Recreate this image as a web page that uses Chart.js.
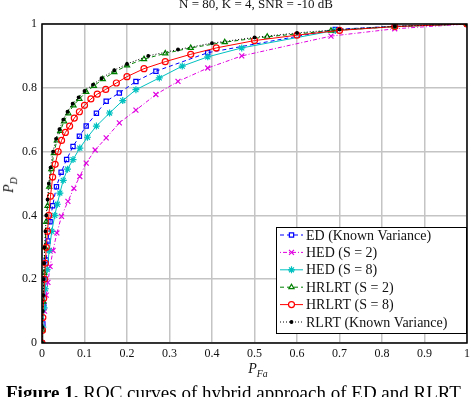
<!DOCTYPE html>
<html>
<head>
<meta charset="utf-8">
<script src="https://cdn.jsdelivr.net/npm/chart.js@4.4.1/dist/chart.umd.min.js"></script>
<style>
html, body { margin: 0; padding: 0; background: #fff; overflow: hidden; }
#wrap { position: relative; width: 474px; height: 397px; overflow: hidden; }
#chart { position: absolute; left: 0; top: 0; }
.txt { position: absolute; font-family: "Liberation Serif", "DejaVu Serif", serif; color: #111; white-space: nowrap; }
#title { left: 0; width: 512px; top: -4px; text-align: center; font-size: 13px; }
#ylab { left: 10px; top: 185px; font-size: 14px; font-style: italic; transform: translate(-50%, -50%) rotate(-90deg); }
#xlab { left: 258px; top: 370px; font-size: 14px; font-style: italic; transform: translate(-50%, -50%); }
#caption { left: 6px; top: 382px; font-size: 19px; color: #000; }
sub { font-size: 70%; }
</style>
</head>
<body>
<div id="wrap">
  <canvas id="chart" width="474" height="397"></canvas>
  <div class="txt" id="title">N = 80, K = 4, SNR = -10 dB</div>
  <div class="txt" id="ylab">P<sub>D</sub></div>
  <div class="txt" id="xlab">P<sub>Fa</sub></div>
  <div class="txt" id="caption"><b>Figure 1.</b> ROC curves of hybrid approach of ED and RLRT</div>
</div>
<script>
// Valores (Pfa, Pd)
const seriesNames = ['ED (Known Variance)', 'HED (S = 2)', 'HED (S = 8)', 'HRLRT (S = 2)', 'HRLRT (S = 8)', 'RLRT (Known Variance)'];

const edPfa = [0, 0.002, 0.004, 0.007, 0.01, 0.014, 0.019, 0.025, 0.034, 0.045, 0.058, 0.073, 0.088, 0.104, 0.128, 0.151, 0.182, 0.221, 0.268, 0.39, 0.69, 0.83, 1];
const edPd  = [0, 0.06, 0.12, 0.2, 0.26, 0.32, 0.38, 0.43, 0.49, 0.535, 0.575, 0.616, 0.648, 0.68, 0.72, 0.758, 0.784, 0.82, 0.852, 0.91, 0.983, 0.993, 1];

const hed2Pfa = [0, 0.003, 0.006, 0.01, 0.014, 0.019, 0.026, 0.035, 0.046, 0.061, 0.075, 0.089, 0.104, 0.125, 0.151, 0.182, 0.221, 0.268, 0.32, 0.39, 0.47, 0.68, 0.83, 1];
const hed2Pd  = [0, 0.05, 0.1, 0.15, 0.19, 0.24, 0.29, 0.345, 0.397, 0.444, 0.485, 0.522, 0.564, 0.605, 0.643, 0.69, 0.73, 0.779, 0.82, 0.862, 0.9, 0.962, 0.985, 1];

const hed8Pfa = [0, 0.002, 0.005, 0.008, 0.012, 0.017, 0.023, 0.03, 0.036, 0.042, 0.05, 0.06, 0.073, 0.089, 0.107, 0.128, 0.159, 0.19, 0.221, 0.276, 0.33, 0.39, 0.47, 0.69, 0.83, 1];
const hed8Pd  = [0, 0.05, 0.11, 0.17, 0.23, 0.29, 0.35, 0.4, 0.435, 0.47, 0.51, 0.545, 0.575, 0.611, 0.645, 0.68, 0.721, 0.76, 0.794, 0.831, 0.868, 0.897, 0.925, 0.98, 0.992, 1];

const hrlrt2Pfa = [0, 0.001, 0.003, 0.005, 0.007, 0.01, 0.013, 0.017, 0.022, 0.028, 0.035, 0.043, 0.052, 0.062, 0.074, 0.088, 0.104, 0.122, 0.143, 0.17, 0.2, 0.24, 0.29, 0.35, 0.43, 0.53, 0.68, 0.83, 1];
const hrlrt2Pd  = [0, 0.04, 0.13, 0.22, 0.3, 0.38, 0.43, 0.49, 0.545, 0.595, 0.635, 0.665, 0.695, 0.72, 0.745, 0.765, 0.787, 0.806, 0.827, 0.849, 0.87, 0.89, 0.908, 0.925, 0.943, 0.96, 0.979, 0.992, 1];

const hrlrt8Pfa = [0, 0.001, 0.002, 0.004, 0.006, 0.008, 0.01, 0.013, 0.016, 0.02, 0.025, 0.031, 0.038, 0.046, 0.055, 0.065, 0.076, 0.088, 0.1, 0.115, 0.13, 0.15, 0.175, 0.2, 0.24, 0.29, 0.35, 0.41, 0.5, 0.6, 0.7, 0.83, 1];
const hrlrt8Pd  = [0, 0.04, 0.08, 0.14, 0.2, 0.25, 0.3, 0.35, 0.4, 0.46, 0.52, 0.56, 0.6, 0.635, 0.66, 0.68, 0.705, 0.725, 0.745, 0.765, 0.78, 0.795, 0.815, 0.835, 0.86, 0.882, 0.905, 0.925, 0.948, 0.965, 0.98, 0.992, 1];

const rlrtPfa = [0, 0.001, 0.002, 0.003, 0.004, 0.005, 0.006, 0.008, 0.01, 0.013, 0.016, 0.02, 0.026, 0.033, 0.041, 0.05, 0.06, 0.072, 0.086, 0.1, 0.12, 0.14, 0.17, 0.2, 0.25, 0.32, 0.4, 0.5, 0.6, 0.7, 0.83, 1];
const rlrtPd  = [0, 0.05, 0.1, 0.15, 0.2, 0.25, 0.3, 0.35, 0.4, 0.45, 0.5, 0.55, 0.6, 0.64, 0.67, 0.7, 0.725, 0.75, 0.77, 0.79, 0.81, 0.83, 0.855, 0.875, 0.9, 0.92, 0.94, 0.958, 0.972, 0.983, 0.993, 1];

const xTicks = [0, 0.1, 0.2, 0.3, 0.4, 0.5, 0.6, 0.7, 0.8, 0.9, 1];
const yTicks = [0, 0.2, 0.4, 0.6, 0.8, 1];

const toPoints = (xs, ys) => xs.map((x, i) => ({ x: x, y: ys[i] }));
const tickText = v => String(+v.toFixed(1));

const serif = '"Liberation Serif", "DejaVu Serif", serif';

const datasets = [
    { label: seriesNames[0], data: toPoints(edPfa, edPd), borderColor: '#0000ff', borderDash: [4, 3],
      pointStyle: 'rect', pointRadius: 3, order: 6 },
    { label: seriesNames[1], data: toPoints(hed2Pfa, hed2Pd), borderColor: '#e000e0', borderDash: [1, 2, 4, 2],
      pointStyle: 'crossRot', pointRadius: 3.5, order: 5 },
    { label: seriesNames[2], data: toPoints(hed8Pfa, hed8Pd), borderColor: '#00c0c0', borderDash: [],
      pointStyle: 'star', pointRadius: 3.5, order: 4 },
    { label: seriesNames[3], data: toPoints(hrlrt2Pfa, hrlrt2Pd), borderColor: '#008000', borderDash: [4, 3],
      pointStyle: 'triangle', pointRadius: 3, order: 3 },
    { label: seriesNames[4], data: toPoints(hrlrt8Pfa, hrlrt8Pd), borderColor: '#ff0000', borderDash: [],
      pointStyle: 'circle', pointRadius: 3, order: 2 },
    { label: seriesNames[5], data: toPoints(rlrtPfa, rlrtPd), borderColor: '#000000', borderDash: [1, 2],
      pointStyle: 'circle', pointRadius: 1.3, pointBackgroundColor: '#000', order: 1 }
].map(ds => Object.assign({
    showLine: true,
    borderWidth: 1,
    pointBorderWidth: 1.2,
    pointBorderColor: ds.borderColor,
    pointBackgroundColor: 'rgba(255,255,255,0)',
    fill: false,
    tension: 0
}, ds));

// Moldura da área do gráfico + legenda dentro do gráfico
const frameAndLegend = {
    id: 'frameAndLegend',
    afterDraw(chart) {
        const ctx = chart.ctx;
        const a = chart.chartArea;
        ctx.save();
        ctx.strokeStyle = '#000';
        ctx.lineWidth = 1.5;
        ctx.strokeRect(a.left, a.top, a.right - a.left, a.bottom - a.top);

        // Legenda
        const box = { x: 276.5, y: 227.5, w: 190, h: 106 };
        ctx.fillStyle = '#fff';
        ctx.fillRect(box.x, box.y, box.w, box.h);
        ctx.lineWidth = 1;
        ctx.strokeStyle = '#000';
        ctx.strokeRect(box.x, box.y, box.w, box.h);

        ctx.font = '14px ' + serif;
        ctx.textBaseline = 'middle';
        ctx.textAlign = 'left';
        chart.data.datasets.forEach((ds, i) => {
            const y = 235 + i * 17.4;
            ctx.strokeStyle = ds.borderColor;
            ctx.lineWidth = 1;
            ctx.setLineDash(ds.borderDash);
            ctx.beginPath();
            ctx.moveTo(280, y);
            ctx.lineTo(303, y);
            ctx.stroke();
            ctx.setLineDash([]);
            ctx.fillStyle = ds.pointBackgroundColor === 'rgba(255,255,255,0)' ? '#fff' : ds.pointBackgroundColor;
            ctx.strokeStyle = ds.borderColor;
            ctx.lineWidth = 1.2;
            if (Chart.helpers && Chart.helpers.drawPoint) {
                Chart.helpers.drawPoint(ctx, { pointStyle: ds.pointStyle, radius: ds.pointRadius, rotation: 0, borderWidth: 1.2 }, 291.5, y);
            }
            ctx.fillStyle = '#111';
            ctx.fillText(ds.label, 306, y + 1);
        });
        ctx.restore();
    }
};

new Chart(document.getElementById('chart'), {
    type: 'scatter',
    data: { datasets: datasets },
    options: {
        responsive: false,
        animation: false,
        layout: { padding: { top: 24, right: 4, bottom: 0, left: 0 } },
        plugins: {
            legend: { display: false },
            title: { display: false },
            tooltip: { enabled: false }
        },
        scales: {
            x: {
                type: 'linear',
                min: 0,
                max: 1,
                afterFit: s => { s.height = 54; },
                afterBuildTicks: s => { s.ticks = xTicks.map(v => ({ value: v })); },
                border: { display: false },
                grid: { color: '#c4c4c4', lineWidth: 1.5, drawTicks: false },
                ticks: { autoSkip: false, maxRotation: 0, padding: 4, color: '#111',
                         font: { family: serif, size: 12 }, callback: tickText }
            },
            y: {
                type: 'linear',
                min: 0,
                max: 1,
                afterFit: s => { s.width = 42; },
                afterBuildTicks: s => { s.ticks = yTicks.map(v => ({ value: v })); },
                border: { display: false },
                grid: { color: '#c4c4c4', lineWidth: 1.5, drawTicks: false },
                ticks: { autoSkip: false, padding: 5, color: '#111',
                         font: { family: serif, size: 12 }, callback: tickText }
            }
        }
    },
    plugins: [frameAndLegend]
});
</script>
</body>
</html>
